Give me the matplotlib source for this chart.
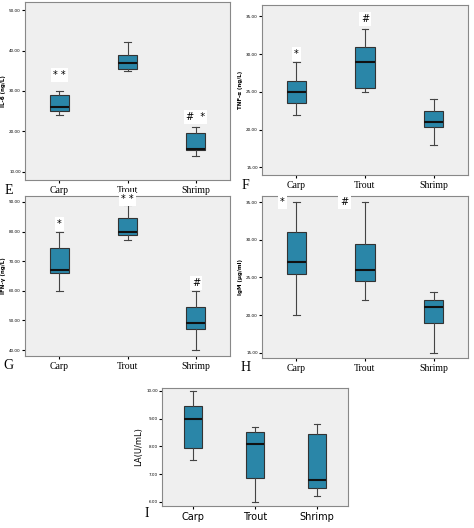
import matplotlib
matplotlib.use("Agg")
import matplotlib.pyplot as plt

groups = ["Carp", "Trout", "Shrimp"]
# stats: (whislo, q1, med, q3, whishi)
il6 = [(24, 25, 26, 29, 30), (35, 35.5, 37, 39, 42), (14, 15.3, 15.7, 19.5, 21)]
tnf = [(22, 23.5, 25, 26.5, 29), (25, 25.5, 29, 31, 33.3), (18, 20.3, 21, 22.5, 24)]
ifn = [(60, 66, 67, 74.5, 80), (77, 79, 80, 84.5, 89), (40, 47, 49, 54.5, 60)]
igm = [(20, 25.5, 27, 31, 35), (22, 24.5, 26, 29.4, 35), (15, 19, 21.1, 22, 23)]
la = [(7.5, 7.95, 9, 9.45, 10), (6, 6.85, 8.1, 8.5, 8.7), (6.2, 6.5, 6.8, 8.45, 8.8)]

panels = [
    dict(data=il6, ylabel="IL-6 (ng/L)", ticks=[10, 20, 30, 40, 50], lim=(8, 52),
         letter="E", rect=[25, 2, 230, 180], ann=[(0, 34, "* *"), (2, 23.5, "#  *")]),
    dict(data=tnf, ylabel="TNF-α (ng/L)", ticks=[15, 20, 25, 30, 35], lim=(14, 36.5),
         letter="F", rect=[262, 5, 468, 175], ann=[(0, 30, "*"), (1, 34.6, "#")]),
    dict(data=ifn, ylabel="IFN-γ (ng/L)", ticks=[40, 50, 60, 70, 80, 90], lim=(38, 92),
         letter="G", rect=[25, 196, 230, 356], ann=[(0, 82.5, "*"), (1, 91, "* *"), (2, 62.5, "#")]),
    dict(data=igm, ylabel="IgM (µg/ml)", ticks=[15, 20, 25, 30, 35], lim=(14.3, 35.8),
         letter="H", rect=[262, 196, 468, 358], ann=[(-0.2, 35, "*"), (0.7, 35, "#")]),
    dict(data=la, ylabel="LA(U/mL)", ticks=[6, 7, 8, 9, 10], lim=(5.85, 10.1),
         letter="I", rect=[162, 388, 348, 506], ann=[]),
]

W, H = 474, 528
fig = plt.figure(figsize=(W / 100, H / 100), dpi=100)
color = "#2a86a8"
for p in panels:
    x0, y0, x1, y1 = p["rect"]
    ax = fig.add_axes([x0 / W, 1 - y1 / H, (x1 - x0) / W, (y1 - y0) / H])
    ax.set_facecolor("#efefef")
    stats = [dict(whislo=s[0], q1=s[1], med=s[2], q3=s[3], whishi=s[4], fliers=[]) for s in p["data"]]
    ax.bxp(stats, positions=[1, 2, 3], widths=0.28, patch_artist=True,
           boxprops=dict(facecolor=color, edgecolor="#333333", linewidth=0.8),
           medianprops=dict(color="#111111", linewidth=1.5),
           whiskerprops=dict(color="#444444", linewidth=0.8),
           capprops=dict(color="#444444", linewidth=0.8), capwidths=0.1)
    ax.set_xlim(0.5, 3.5)
    ax.set_ylim(*p["lim"])
    ax.set_yticks(p["ticks"])
    ax.set_yticklabels([f"{t:.2f}" for t in p["ticks"]], fontsize=3)
    ax.set_xticks([1, 2, 3])
    ax.set_xticklabels(groups, fontsize=7, family="Liberation Serif" if p["letter"] != "I" else "DejaVu Sans")
    ax.tick_params(axis="y", length=2, pad=1)
    ax.tick_params(axis="x", length=2, pad=2)
    ax.set_ylabel(p["ylabel"], fontsize=4 if p["letter"] != "I" else 6,
                  fontweight="bold" if p["letter"] != "I" else "normal", labelpad=2)
    for sp in ax.spines.values():
        sp.set_color("#888888")
    for xi, yv, txt in p["ann"]:
        ax.text(xi + 1, yv, txt, ha="center", va="center", fontsize=7,
                bbox=dict(facecolor="white", edgecolor="none", pad=1.5))
    ax.text(-0.08, -0.06, p["letter"], transform=ax.transAxes, fontsize=10,
            family="Liberation Serif", ha="center", va="center")

fig.savefig("out.png", dpi=100, facecolor="white")
